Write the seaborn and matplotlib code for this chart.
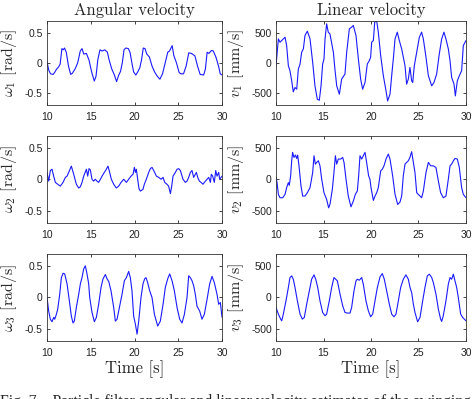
import matplotlib
matplotlib.use("Agg")
import matplotlib.pyplot as plt
import seaborn as sns
import pandas as pd

# values (time [s], value)
w1_t = [10.0, 10.2, 10.4, 10.7, 10.9, 11.1, 11.3, 11.5, 11.7, 11.85, 12.0, 12.2, 12.45, 12.7, 12.9,
        13.2, 13.5, 13.8, 14.0, 14.2, 14.5, 14.8, 15.1, 15.4, 15.6, 15.8, 16.05, 16.3, 16.6, 16.9,
        17.1, 17.4, 17.7, 17.95, 18.2, 18.4, 18.6, 18.8, 19.0, 19.3, 19.5, 19.7, 19.9, 20.15, 20.4,
        20.6, 20.8, 21.0, 21.2, 21.4, 21.7, 22.0, 22.3, 22.6, 22.9, 23.2, 23.5, 23.8, 24.0, 24.3,
        24.5, 24.8, 25.1, 25.3, 25.6, 25.9, 26.2, 26.5, 26.9, 27.2, 27.5, 27.9, 28.1, 28.3, 28.5,
        28.8, 29.0, 29.3, 29.6, 29.8, 30.0]
w1_v = [0.02, -0.12, -0.18, -0.19, -0.15, -0.10, -0.07, -0.02, 0.24, 0.22, 0.25, 0.18, -0.05, -0.19, -0.17,
        -0.10, 0.0, 0.20, 0.24, 0.15, 0.16, 0.05, -0.15, -0.30, -0.22, 0.05, 0.22, 0.20, 0.22, 0.18,
        0.05, -0.10, -0.20, -0.31, -0.20, -0.14, 0.0, 0.22, 0.25, 0.24, 0.17, 0.0, -0.15, -0.20, -0.14,
        -0.08, 0.05, 0.25, 0.24, 0.15, 0.10, -0.05, -0.15, -0.22, -0.27, -0.18, 0.0, 0.18, 0.20, 0.29,
        0.12, 0.0, -0.16, -0.18, -0.18, -0.05, 0.17, 0.16, 0.12, -0.05, -0.19, -0.20, -0.10, 0.18, 0.16,
        0.21, 0.20, 0.10, -0.05, -0.18, -0.20]

w2_t = [10.0, 10.19, 10.38, 10.57, 10.76, 10.95, 11.22, 11.52, 11.83, 12.1, 12.29, 12.48, 12.78, 13.05,
        13.35, 13.62, 13.81, 14.0, 14.19, 14.5, 14.65, 14.8, 14.95, 15.14, 15.33, 15.52, 15.71, 15.9,
        16.1, 16.29, 16.55, 16.78, 16.97, 17.16, 17.35, 17.62, 17.92, 18.19, 18.46, 18.76, 19.07, 19.33,
        19.6, 19.83, 19.98, 20.1, 20.21, 20.36, 20.51, 20.67, 20.97, 21.12, 21.35, 21.62, 21.81, 22.0,
        22.19, 22.5, 22.76, 23.03, 23.26, 23.45, 23.71, 23.9, 24.1, 24.25, 24.4, 24.67, 24.86, 25.05,
        25.24, 25.54, 25.81, 26.0, 26.19, 26.38, 26.57, 26.76, 26.95, 27.07, 27.22, 27.41, 27.6, 27.83,
        27.98, 28.29, 28.48, 28.67, 28.78, 28.93, 29.12, 29.28, 29.43, 29.62, 29.73, 30.0]
w2_v = [0.11, -0.03, 0.14, 0.16, 0.05, -0.05, -0.08, -0.11, -0.05, 0.03, 0.05, 0.11, 0.21, 0.08,
        -0.08, -0.14, -0.12, -0.05, 0.05, 0.16, 0.05, 0.17, 0.15, 0.0, -0.03, 0.0, -0.03, -0.05,
        0.0, 0.05, 0.11, 0.16, 0.21, 0.11, 0.0, -0.08, -0.14, -0.11, -0.05, 0.0, -0.05, 0.0,
        0.05, 0.08, 0.19, 0.11, 0.16, 0.0, -0.15, -0.19, -0.16, -0.08, 0.0, 0.11, 0.17, 0.19,
        0.14, 0.05, 0.03, 0.0, 0.03, -0.05, -0.08, -0.11, -0.23, -0.11, 0.05, 0.11, 0.16, 0.17,
        0.14, 0.0, -0.05, -0.03, 0.03, 0.11, 0.14, 0.03, 0.08, 0.11, 0.03, -0.03, -0.05, -0.08,
        -0.05, 0.0, 0.03, -0.05, 0.08, 0.05, -0.05, 0.14, 0.05, 0.11, 0.0, 0.05]

w3_t = [10.0, 10.19, 10.38, 10.57, 10.76, 10.88, 11.07, 11.22, 11.45, 11.64, 11.83, 12.02, 12.29, 12.55,
        12.78, 12.97, 13.12, 13.35, 13.62, 13.81, 14.0, 14.19, 14.38, 14.57, 14.76, 14.88, 15.14, 15.41,
        15.64, 15.9, 16.17, 16.4, 16.67, 16.86, 17.05, 17.31, 17.62, 17.81, 18.0, 18.19, 18.57, 18.84,
        19.07, 19.33, 19.52, 19.71, 19.9, 20.1, 20.29, 20.48, 20.74, 20.97, 21.16, 21.31, 21.5, 21.73,
        22.0, 22.27, 22.65, 22.95, 23.26, 23.52, 23.79, 24.02, 24.29, 24.55, 24.86, 25.16, 25.43, 25.7,
        26.0, 26.19, 26.38, 26.57, 26.76, 26.95, 27.14, 27.45, 27.71, 27.98, 28.29, 28.59, 28.86, 29.12,
        29.43, 29.62, 29.81, 30.0]
w3_v = [0.0, -0.22, -0.35, -0.39, -0.32, -0.35, -0.27, -0.19, 0.05, 0.32, 0.39, 0.38, 0.22, -0.05,
        -0.30, -0.41, -0.38, -0.16, 0.05, 0.22, 0.32, 0.46, 0.51, 0.38, 0.22, 0.0, -0.24, -0.39,
        -0.32, -0.11, 0.16, 0.30, 0.37, 0.30, 0.26, 0.11, -0.16, -0.38, -0.35, -0.22, 0.05, 0.27,
        0.32, 0.42, 0.32, 0.11, -0.30, -0.43, -0.59, -0.38, 0.0, 0.22, 0.30, 0.32, 0.24, 0.11,
        0.0, -0.27, -0.46, -0.38, -0.11, 0.16, 0.30, 0.38, 0.27, 0.11, -0.16, -0.35, -0.41, -0.27,
        0.0, 0.35, 0.32, 0.27, 0.19, 0.05, -0.14, -0.22, -0.35, -0.27, -0.03, 0.22, 0.34, 0.24,
        0.05, -0.11, -0.08, -0.32]

v1_t = [10.0, 10.25, 10.42, 10.6, 10.77, 10.95, 11.12, 11.3, 11.47, 11.65, 11.82, 12.0, 12.18, 12.35,
        12.53, 12.7, 12.88, 13.05, 13.3, 13.58, 13.86, 14.1, 14.35, 14.56, 14.74, 14.91, 15.05, 15.16,
        15.33, 15.5, 15.68, 16.04, 16.2, 16.39, 16.67, 16.91, 17.26, 17.44, 17.72, 17.96, 18.14, 18.42,
        18.67, 18.91, 19.12, 19.37, 19.61, 19.82, 19.96, 20.07, 20.25, 20.39, 20.6, 20.77, 21.02, 21.3,
        21.58, 21.75, 22.0, 22.21, 22.35, 22.53, 22.77, 22.98, 23.23, 23.58, 23.75, 23.93, 24.1, 24.28,
        24.39, 24.56, 24.81, 25.09, 25.33, 25.51, 25.79, 26.04, 26.39, 26.63, 26.91, 27.19, 27.44, 27.68,
        27.89, 28.14, 28.32, 28.49, 28.74, 28.88, 29.09, 29.3, 29.54, 29.72, 30.0]
v1_v = [-45, 402, 347, 375, 402, 430, 291, -45, -129, -296, -481, -408, -436, -101,
        -17, 179, 235, 458, 531, 402, 11, -380, -604, -620, -380, -17, 67, 402,
        654, 514, 486, 179, -101, -380, -520, -268, -184, 179, 570, 598, 626, 458,
        67, -268, -436, -324, -17, 39, 95, 347, 375, 682, 700, 514, 123, -212,
        -464, -632, -520, -157, 67, 402, 514, 375, 235, -45, -352, -268, -73, -296,
        -324, -45, 179, 430, 514, 402, 95, -212, -380, -324, -184, 151, 402, 514,
        402, 235, 39, -240, -352, -548, -296, -212, -129, 291, 375]

v2_t = [10.0, 10.11, 10.25, 10.42, 10.7, 10.95, 11.12, 11.3, 11.4, 11.54, 11.65, 11.75, 11.89, 12.04,
        12.18, 12.28, 12.42, 12.63, 12.81, 13.05, 13.3, 13.58, 13.86, 14.0, 14.14, 14.28, 14.46, 14.63,
        14.81, 15.05, 15.33, 15.54, 15.68, 15.93, 16.1, 16.25, 16.39, 16.56, 16.81, 17.02, 17.16, 17.37,
        17.61, 17.89, 18.14, 18.35, 18.56, 18.7, 18.84, 19.02, 19.19, 19.37, 19.54, 19.75, 19.89, 20.0,
        20.25, 20.42, 20.6, 20.77, 21.02, 21.19, 21.37, 21.58, 21.82, 22.0, 22.28, 22.53, 22.81, 23.05,
        23.23, 23.4, 23.58, 23.75, 23.93, 24.1, 24.28, 24.46, 24.63, 24.81, 24.98, 25.16, 25.33, 25.51,
        25.79, 26.04, 26.28, 26.56, 26.84, 27.09, 27.33, 27.61, 27.89, 28.14, 28.32, 28.49, 28.67, 28.84,
        29.09, 29.3, 29.54, 29.72, 30.0]
v2_v = [27, -54, -242, -296, -296, -242, -134, -54, -97, 54, 296, 430, 349, 387,
        333, 387, 215, -108, -269, -269, -215, -134, 108, 376, 242, 269, 296, 215,
        0, -215, -323, -457, -403, -161, 108, 376, 242, 323, 323, 349, 269, 0,
        -269, -441, -349, -242, -188, 54, 376, 323, 376, 430, 269, 54, 0, -134,
        -339, -269, -215, -134, 134, 161, 215, 323, 403, 323, 54, -242, -403, -366,
        -269, 54, 242, 269, 296, 349, 441, 269, 108, -215, -242, -269, -296, -188,
        108, 269, 215, 215, 188, -27, -215, -296, -269, 0, 215, 242, 296, 333,
        323, 188, -134, -242, -296]

v3_t = [10.0, 10.25, 10.49, 10.6, 10.77, 11.05, 11.3, 11.47, 11.65, 11.82, 12.0, 12.25, 12.53, 12.77,
        12.98, 13.23, 13.51, 13.75, 14.0, 14.18, 14.39, 14.63, 14.91, 15.16, 15.33, 15.61, 15.86, 16.1,
        16.28, 16.46, 16.74, 17.02, 17.26, 17.51, 17.79, 17.96, 18.21, 18.42, 18.56, 18.77, 19.02, 19.19,
        19.47, 19.72, 19.96, 20.18, 20.42, 20.67, 20.95, 21.19, 21.4, 21.65, 21.93, 22.18, 22.42, 22.63,
        22.88, 23.12, 23.4, 23.68, 23.93, 24.11, 24.28, 24.46, 24.63, 24.91, 25.16, 25.44, 25.68, 25.93,
        26.14, 26.39, 26.56, 26.84, 27.09, 27.33, 27.44, 27.61, 27.89, 28.14, 28.32, 28.49, 28.67, 28.84,
        29.02, 29.19, 29.44, 29.65, 30.0]
v3_v = [-160, -268, -348, -375, -268, -54, 161, 321, 348, 294, 161, -54, -268, -348,
        -321, -107, 107, 294, 364, 294, 161, -54, -241, -294, -268, -54, 161, 321,
        294, 268, 54, -134, -241, -251, -251, -161, 107, 268, 294, 278, 321, 214,
        -54, -214, -310, -268, -54, 161, 332, 385, 294, 107, -107, -268, -310, -268,
        -54, 161, 294, 364, 294, 161, 80, -107, -241, -391, -321, -54, 161, 348,
        375, 321, 241, 54, -187, -348, -385, -294, -54, 214, 321, 294, 375, 268,
        161, 0, -268, -321, -375]

x_ticks = [10, 15, 20, 25, 30]
w_ticks = [-0.5, 0, 0.5]
w_ticklabels = ["-0.5", "0", "0.5"]
v_ticks = [-500, 0, 500]
v_ticklabels = ["-500", "0", "500"]

sns.set_style("ticks", {"xtick.direction": "in", "ytick.direction": "in"})
plt.rcParams["mathtext.fontset"] = "cm"
plt.rcParams["axes.unicode_minus"] = False

fig = plt.figure(figsize=(4.74, 3.99), dpi=100)

# axes placement in figure fractions (left col is a bit narrower than right)
rows = [(0.7368, 0.2105), (0.4411, 0.2193), (0.1454, 0.2180)]
cols = [(0.0992, 0.3692), (0.5823, 0.4008)]

ang = [(w1_t, w1_v), (w2_t, w2_v), (w3_t, w3_v)]
lin = [(v1_t, v1_v), (v2_t, v2_v), (v3_t, v3_v)]
line_color = "#1a1aff"
tick_font = {"family": "Liberation Sans", "size": 7.5}

for i in range(3):
    for j in range(2):
        ax = fig.add_axes([cols[j][0], rows[i][0], cols[j][1], rows[i][1]])
        if j == 0:
            t, v = ang[i]
            ylim, yt, ytl = (-0.7, 0.7), w_ticks, w_ticklabels
            ylab = r"$\omega_%d$ [rad/s]" % (i + 1)
        else:
            t, v = lin[i]
            ylim, yt, ytl = (-700, 700), v_ticks, v_ticklabels
            ylab = r"$v_%d$ [mm/s]" % (i + 1)
        df = pd.DataFrame({"t": t, "v": v})
        sns.lineplot(data=df, x="t", y="v", ax=ax, color=line_color, linewidth=0.8)
        ax.set_xlim(10, 30)
        ax.set_ylim(*ylim)
        ax.set_xticks(x_ticks)
        ax.set_xticklabels([str(x) for x in x_ticks], fontdict=tick_font)
        ax.set_yticks(yt)
        ax.set_yticklabels(ytl, fontdict=tick_font)
        ax.tick_params(direction="in", length=2.5, width=0.6, top=True, right=True,
                       colors="#222222")
        ax.tick_params(axis="y", pad=3)
        ax.tick_params(axis="x", pad=5)
        for s in ax.spines.values():
            s.set_linewidth(0.6)
            s.set_color("#333333")
        ax.set_ylabel(ylab, family="cmr10", fontsize=11.5, labelpad=4)
        ax.set_xlabel("Time [s]" if i == 2 else "", family="cmr10", fontsize=12, labelpad=2)
        if i == 0:
            ax.set_title("Angular velocity" if j == 0 else "Linear velocity",
                         family="cmr10", fontsize=12, pad=4)

# caption, cut off by the bottom edge like in the source page
fig.text(0.0, 0.012, "Fig. 7.   Particle filter angular and linear velocity estimates of the swinging",
         family="Liberation Serif", fontsize=11.3, va="top", ha="left")

fig.savefig("out.png", dpi=100)
